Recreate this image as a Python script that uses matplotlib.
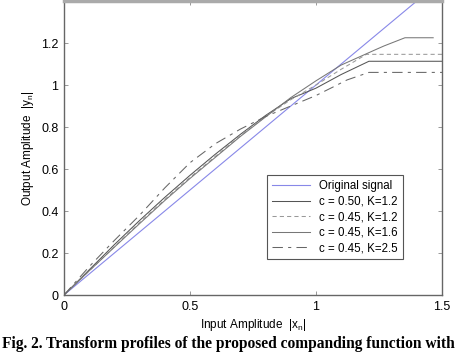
import matplotlib
matplotlib.use("Agg")
import matplotlib.pyplot as plt

# identity reference
x_orig = [0, 1.5]
y_orig = [0, 1.5]

# c = 0.50, K = 1.2
x_a = [0, 0.1, 0.2, 0.3, 0.4, 0.5, 0.6, 0.7, 0.8, 0.9, 1.0, 1.1, 1.21, 1.5]
y_a = [0, 0.12, 0.24, 0.355, 0.465, 0.57, 0.67, 0.765, 0.855, 0.935, 0.985, 1.05, 1.113, 1.113]

# c = 0.45, K = 1.2
x_b = [0, 0.1, 0.2, 0.3, 0.4, 0.5, 0.6, 0.7, 0.8, 0.9, 1.0, 1.1, 1.2, 1.5]
y_b = [0, 0.115, 0.23, 0.345, 0.455, 0.56, 0.66, 0.76, 0.85, 0.93, 1.0, 1.075, 1.146, 1.146]

# c = 0.45, K = 1.6
x_c = [0, 0.1, 0.2, 0.3, 0.4, 0.5, 0.6, 0.7, 0.8, 0.9, 1.0, 1.1, 1.234, 1.27, 1.353, 1.465]
y_c = [0, 0.115, 0.228, 0.34, 0.45, 0.555, 0.655, 0.755, 0.848, 0.94, 1.02, 1.095, 1.167, 1.186, 1.225, 1.225]

# c = 0.45, K = 2.5
x_d = [0, 0.1, 0.2, 0.3, 0.4, 0.5, 0.6, 0.7, 0.8, 0.9, 1.0, 1.067, 1.123, 1.21, 1.5]
y_d = [0, 0.135, 0.26, 0.38, 0.51, 0.63, 0.72, 0.79, 0.85, 0.90, 0.95, 0.99, 1.024, 1.06, 1.06]

labels = ["Original signal", "c = 0.50, K=1.2", "c = 0.45, K=1.2",
          "c = 0.45, K=1.6", "c = 0.45, K=2.5"]

plt.rcParams['font.family'] = ['Liberation Sans', 'DejaVu Sans']

fig = plt.figure(figsize=(4.74, 3.53), dpi=100)
ax = fig.add_axes([64 / 474, 58 / 353, 378 / 474, 294 / 353])

ax.plot(x_orig, y_orig, color="#8888e8", lw=0.8, label=labels[0])
ax.plot(x_a, y_a, color="#555555", lw=0.75, label=labels[1])
ax.plot(x_b, y_b, color="#999999", lw=0.75, ls=(0, (4, 3)), label=labels[2])
ax.plot(x_c, y_c, color="#777777", lw=0.75, label=labels[3])
ax.plot(x_d, y_d, color="#666666", lw=0.75, ls=(0, (10, 5, 3, 5)), label=labels[4])

ax.set_xlim(0, 1.5)
ax.set_ylim(0, 1.4)
ax.set_xticks([0, 0.5, 1, 1.5])
ax.set_xticklabels(["0", "0.5", "1", "1.5"])
ax.set_yticks([0, 0.2, 0.4, 0.6, 0.8, 1, 1.2])
ax.set_yticklabels(["0", "0.2", "0.4", "0.6", "0.8", "1", "1.2"])
ax.tick_params(direction="in", length=3, width=0.6, color="#888888",
               labelsize=9, top=True, right=True, pad=4)
for s in ax.spines.values():
    s.set_color("#666666")
    s.set_linewidth(1.0)
ax.spines["top"].set_color("#aaaaaa")
ax.spines["top"].set_linewidth(2.5)

ax.set_xlabel("Input Amplitude  |x$_\\mathregular{n}$|", fontsize=8.5, labelpad=3)
ax.set_ylabel("Output Amplitude  |y$_\\mathregular{n}$|", fontsize=8.5, labelpad=4)

leg = ax.legend(loc="upper left", bbox_to_anchor=(0.537, 0.408), fontsize=8.3,
                fancybox=False, framealpha=1, edgecolor="#555555", borderaxespad=0,
                handlelength=3.3, borderpad=0.45, labelspacing=0.3, handletextpad=0.8)
leg.get_frame().set_linewidth(0.8)

fig.text(0.004, 0.004, "Fig. 2. Transform profiles of the proposed companding function with",
         fontsize=11.2, fontweight="bold", family="Liberation Serif", ha="left", va="bottom")

fig.savefig("out.png", dpi=100)
